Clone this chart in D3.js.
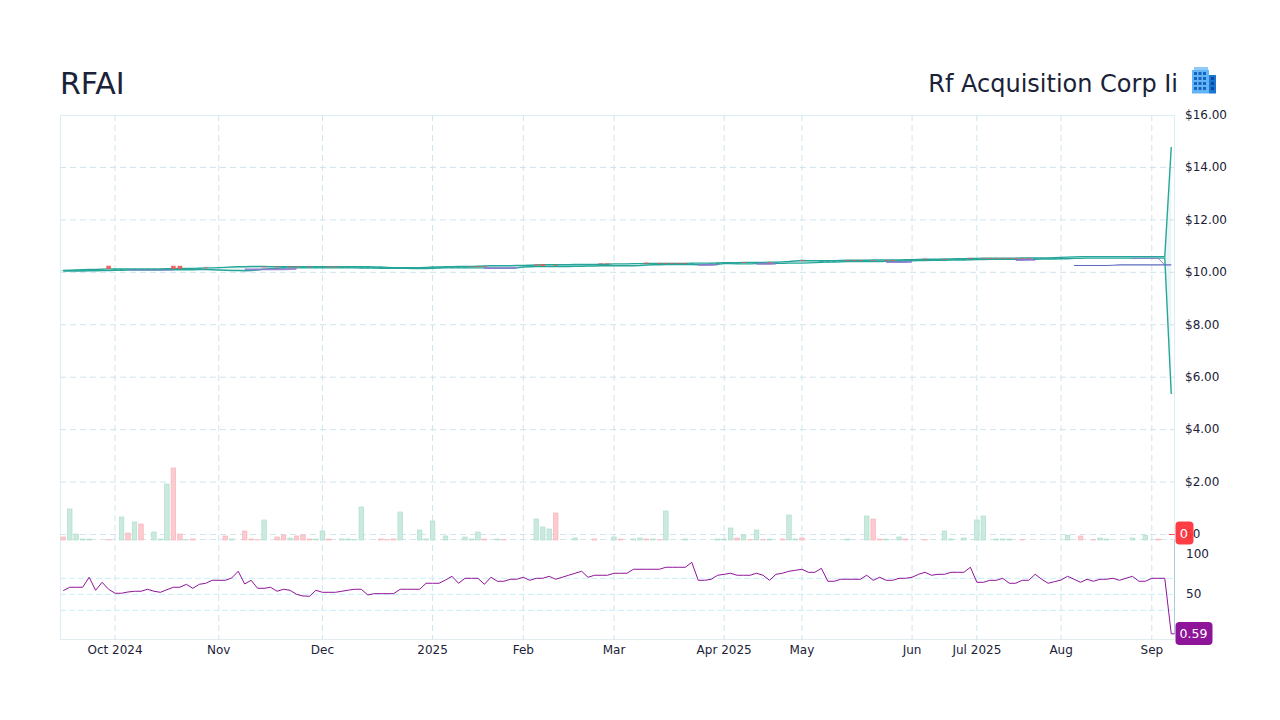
<!DOCTYPE html>
<html><head><meta charset="utf-8">
<script src="https://cdn.jsdelivr.net/npm/d3@7/dist/d3.min.js"></script>
<style>html,body{margin:0;background:#fff}svg{display:block;font-family:"DejaVu Sans",sans-serif}</style>
</head><body><svg id="c" width="1280" height="720"></svg>
<script>
const tickIndex=[8,24,40,57,71,85,102,114,131,141,154,168];
const tickLabels=["Oct 2024","Nov","Dec","2025","Feb","Mar","Apr 2025","May","Jun","Jul 2025","Aug","Sep"];
const priceTicks=[0,2,4,6,8,10,12,14,16];
const rsiTicks=[50,100];
const rsiGrid=[30,50,70];
const rsi=[54.6,58.8,58.8,58.8,71.3,55,65,56.3,51.3,51.3,52.9,53.8,53.8,56.3,53.8,52.5,55.8,58.8,58.8,62.5,57.5,62.5,63.8,67.5,67.5,67.5,70.4,78.8,62.9,67.5,57.5,57.5,58.8,53.8,56.3,55,50,47.9,47.5,55,52.5,52.5,52.5,53.8,55.2,
56.3,56.3,49.2,50.8,50.8,50.8,50.8,56.3,56.3,56.3,56.3,63.8,63.8,63.8,67.9,72.5,63.8,70,70,70,62.5,71.3,66.3,66.3,68.8,68.8,71.3,67.5,70,70,72.5,68.8,71.3,73.8,76.3,78.8,71.3,73.8,73.8,73.8,76.3,76.3,76.3,81.3,81.3,81.3,81.3,81.3,83.8,83.8,83.8,83.8,90,67.5,
67.5,68.8,73.8,75,76.3,73.8,73.8,73.8,76.3,73.8,67.5,75,76.3,78.8,80,81.3,77.5,77.5,82.5,66.3,66.3,68.8,68.8,68.8,68.8,73.8,67.5,71.3,67.5,67.5,70,70,71.3,75,77.5,73.8,75,75,77.5,77.5,77.5,83.8,65,65,67.5,67.5,70,63.8,63.8,67.5,67.5,75,68.8,63.8,
65.8,67.9,72.5,68.8,65,68.8,66.3,68.8,68.8,70,67.5,70,72.5,66.3,66.3,70,70,70,0.59];
const volumes=[3,31,6,1,1,0,0,.3,0,23,7,18,16,0,8,1,56,72,6,.3,1,0,0,0,0,4,1,0,9,1,.3,20,0,3,5,2,4,5,1,1,9,1,0,1,1,.3,33,0,0,1,.3,1,28,0,0,10,1,19,0,4,0,0,3,1,8,1,0,1,.3,0,0,0,0,21,13,11,27,0,0,2,0,0,1,0,0,3,1,0,1,2,1,1,.3,29,0,0,1,0,0,0,0,1,1,12,2,5,.3,10,.3,1,0,1,25,1,2,0,0,0,0,0,0,1,0,0,24,21,1,1,0,3,1,0,0,.3,0,0,9,1,0,2,0,20,24,0,1,1,1,0,.3,0,0,0,0,0,0,4.7,0,4,0,.3,2,1,0,0,0,2,0,4.7,0,1,0,0];
const volumeDown=[0,7,10,12,17,18,20,25,28,29,30,33,34,36,37,38,41,49,50,51,65,68,76,82,86,90,92,104,106,108,111,114,125,126,130,133,148,157,159,169];
const bandUpper=[10.07,10.08,10.09,10.10,10.11,10.11,10.12,10.13,10.13,10.13,10.13,10.13,10.13,10.13,10.13,10.13,10.14,10.14,10.15,10.15,10.15,10.16,10.17,10.17,10.18,10.19,10.20,10.21,10.21,10.22,10.22,10.22,10.21,10.21,10.21,10.21,10.21,10.21,10.21,10.21,10.21,10.21,10.21,10.21,10.21,10.21,10.21,10.21,10.20,10.20,10.19,10.18,10.18,10.18,10.18,10.18,10.19,10.20,10.20,10.21,10.21,10.22,10.22,10.22,10.23,10.24,10.25,10.25,10.25,10.25,10.26,10.26,10.27,10.28,10.29,10.29,10.29,10.29,10.29,10.30,10.30,10.30,10.30,10.31,10.31,10.32,10.32,10.32,10.33,10.33,10.34,10.34,10.34,10.34,10.34,10.34,10.34,10.35,10.35,10.35,10.35,10.36,10.37,10.37,10.37,10.38,10.38,10.38,10.38,10.39,10.39,10.40,10.41,10.43,10.45,10.44,10.44,10.44,10.44,10.44,10.45,10.46,10.46,10.46,10.46,10.47,10.47,10.47,10.47,10.47,10.48,10.48,10.49,10.50,10.50,10.50,10.51,10.51,10.52,10.52,10.53,10.53,10.54,10.54,10.54,10.54,10.54,10.54,10.55,10.55,10.55,10.55,10.55,10.56,10.57,10.58,10.59,10.60,10.60,10.60,10.60,10.60,10.60,10.60,10.60,10.60,10.60,10.60,10.60,10.60,10.60,14.78];
const bandLower=[10.05,10.05,10.05,10.05,10.06,10.06,10.07,10.07,10.08,10.08,10.09,10.09,10.09,10.09,10.09,10.09,10.10,10.10,10.10,10.10,10.10,10.11,10.11,10.10,10.09,10.08,10.07,10.07,10.06,10.07,10.09,10.12,10.14,10.15,10.16,10.17,10.17,10.17,10.17,10.17,10.17,10.17,10.17,10.17,10.17,10.17,10.16,10.16,10.16,10.15,10.15,10.15,10.15,10.15,10.14,10.14,10.14,10.15,10.16,10.17,10.17,10.17,10.17,10.17,10.17,10.17,10.16,10.16,10.16,10.16,10.17,10.20,10.21,10.22,10.22,10.22,10.22,10.22,10.22,10.23,10.23,10.24,10.24,10.25,10.25,10.25,10.25,10.25,10.25,10.26,10.28,10.29,10.29,10.30,10.30,10.30,10.30,10.30,10.29,10.29,10.30,10.31,10.33,10.33,10.32,10.32,10.32,10.33,10.33,10.33,10.34,10.34,10.35,10.35,10.35,10.36,10.37,10.38,10.39,10.39,10.40,10.41,10.41,10.41,10.41,10.41,10.41,10.42,10.42,10.42,10.43,10.44,10.45,10.45,10.46,10.46,10.46,10.47,10.47,10.47,10.48,10.49,10.49,10.50,10.50,10.50,10.50,10.50,10.50,10.50,10.50,10.51,10.51,10.51,10.52,10.52,10.53,10.53,10.54,10.54,10.54,10.54,10.54,10.54,10.54,10.54,10.54,10.54,10.54,10.54,10.54,5.36];
const maStart=[10,28,65,98,107,127,147,165];
const maValues=[[10.08,10.08,10.08,10.08,10.08,10.08,10.08,10.08],[10.11,10.11,10.11,10.11,10.11,10.11,10.11,10.12,10.13],[10.16,10.16,10.16,10.16,10.16,10.17],[10.28,10.28,10.28,10.29],[10.32,10.32,10.32,10.33],[10.39,10.39,10.39,10.39,10.40],[10.47,10.47,10.48,10.48],[10.53,10.53,10.53,10.53,10.53,10.28]];
const sma200Start=156;
const sma200=[10.26,10.26,10.26,10.26,10.26,10.26,10.27,10.28,10.28,10.28,10.28,10.28,10.28,10.28,10.28,10.28];
const candleDown=[7,17,18,22,31,33,35,36,38,41,42,63,64,65,73,74,76,83,84,90,92,93,94,95,96,105,109,114,121,122,123,125,127,128,133,136,140,142,143,144,145,146,147,148,149];
const candleHigh=[10.25,10.25,10.25,10.18,10.22,10.22,10.22,10.22,10.22,10.22,10.22,10.22,10.23,10.23,10.30,10.31,10.28,10.34,10.34,10.37,10.36,10.36,10.36,10.36,10.36,10.39,10.39,10.47,10.47,10.47,10.47,10.47,10.47,10.47,10.52,10.51,10.55,10.55,10.55,10.55,10.55,10.55,10.55,10.55,10.55];
const candleLow=[10.13,10.13,10.13,10.15,10.19,10.19,10.19,10.19,10.19,10.19,10.19,10.20,10.20,10.20,10.26,10.24,10.25,10.31,10.31,10.33,10.33,10.33,10.33,10.33,10.33,10.36,10.36,10.44,10.44,10.44,10.44,10.44,10.44,10.44,10.49,10.48,10.52,10.52,10.52,10.52,10.52,10.52,10.52,10.52,10.52];
const lastPrice=0, lastRsi=0.59;

const svg=d3.select("#c");
const L=60,R=1174.5;
const idx=d3.range(172);
const x=d3.scaleBand().domain(idx).range([L,R]).paddingInner(0.3).paddingOuter(0.15);
const cx=i=>x(i)+x.bandwidth()/2;
const y=d3.scaleLinear().domain([0,16]).range([534.5,115]);
const yv=d3.scaleLinear().domain([0,73]).range([540,467]);
const yr=d3.scaleLinear().domain([0,100]).range([634.3,554.3]);
const ink="#1a2238", grid="#cfe4ec", grid2="#c9eefb";

// Frame and grid
const g=svg.append("g");
g.append("line").attr("x1",L+.5).attr("x2",L+.5).attr("y1",115).attr("y2",640).attr("stroke","#dbeef4");
g.append("line").attr("x1",L).attr("x2",R).attr("y1",115.5).attr("y2",115.5).attr("stroke","#dbeef4");
g.append("line").attr("x1",L).attr("x2",R).attr("y1",639.5).attr("y2",639.5).attr("stroke","#e3ecef");
g.append("line").attr("x1",R).attr("x2",R).attr("y1",115).attr("y2",540).attr("stroke","#dbeef4");
g.append("line").attr("x1",R).attr("x2",R).attr("y1",540).attr("y2",634).attr("stroke","#a9cdd6");
g.selectAll(".vg").data(tickIndex).join("line").attr("x1",d=>cx(d)).attr("x2",d=>cx(d)).attr("y1",115).attr("y2",640)
 .attr("stroke",grid).attr("stroke-dasharray","6 4");
g.selectAll(".hg").data(priceTicks.filter(d=>d<16)).join("line").attr("x1",L).attr("x2",R).attr("y1",d=>y(d)).attr("y2",d=>y(d))
 .attr("stroke",grid).attr("stroke-dasharray","6 4");
g.append("line").attr("x1",L).attr("x2",R).attr("y1",yv(0)-.5).attr("y2",yv(0)-.5).attr("stroke",grid).attr("stroke-dasharray","6 4");
g.selectAll(".rg").data(rsiGrid).join("line").attr("x1",L).attr("x2",R).attr("y1",d=>yr(d)).attr("y2",d=>yr(d))
 .attr("stroke",grid2).attr("stroke-dasharray","6 3");

// Volume
const downSet=new Set(volumeDown);
svg.append("g").selectAll("rect").data(idx.filter(i=>volumes[i]>0)).join("rect")
 .attr("x",i=>x(i)).attr("width",x.bandwidth()).attr("y",i=>yv(volumes[i])).attr("height",i=>yv(0)-yv(volumes[i]))
 .attr("fill",i=>downSet.has(i)?"#fbcbcf":"#cbeadf").attr("stroke",i=>downSet.has(i)?"#f6b7bd":"#aedfcb").attr("stroke-width",.7);

// Bands
svg.append("path").datum(idx).attr("fill","#26a69a").attr("fill-opacity",.1)
 .attr("d",d3.area().x(cx).y0(i=>y(bandLower[i])).y1(i=>y(bandUpper[i])));
const lineU=d3.line().x(cx).y(i=>y(bandUpper[i])), lineL=d3.line().x(cx).y(i=>y(bandLower[i]));
[lineU,lineL].forEach(l=>svg.append("path").datum(idx).attr("fill","none").attr("stroke","#26a69a").attr("stroke-width",1.4).attr("d",l));
// Up candles where the band is narrow
const candleSet=new Set(candleDown);
svg.append("g").selectAll("rect").data(idx.filter(i=>i<170&&!candleSet.has(i)&&bandUpper[i]-bandLower[i]<=.06)).join("rect")
 .attr("x",i=>x(i)).attr("width",x.bandwidth()).attr("y",i=>y(bandUpper[i])).attr("height",i=>y(bandLower[i])-y(bandUpper[i]))
 .attr("fill","#26a69a").attr("opacity",.8);
// Moving averages
const ma=d3.line().x(d=>cx(d[0])).y(d=>y(d[1]));
maStart.forEach((s,k)=>{
 svg.append("path").datum(maValues[k].map((v,j)=>[s+j,v])).attr("fill","none").attr("stroke","#8f78cf").attr("stroke-width",k==7?1:1.8).attr("opacity",k==0?.45:.9).attr("d",ma);
});
svg.append("path").datum(sma200.map((v,j)=>[sma200Start+j,v])).attr("fill","none").attr("stroke","#5c6bc0").attr("stroke-width",1.2).attr("d",ma);
// Down candles
svg.append("g").selectAll("rect").data(candleDown).join("rect")
 .attr("x",i=>x(i)).attr("width",x.bandwidth()).attr("y",(d,k)=>y(candleHigh[k])).attr("height",(d,k)=>y(candleLow[k])-y(candleHigh[k]))
 .attr("fill","#ef5350").attr("opacity",.9);
// Last price stub
svg.append("line").attr("x1",cx(170)+4).attr("x2",R).attr("y1",y(lastPrice)).attr("y2",y(lastPrice)).attr("stroke","#ef5350");

// RSI
svg.append("path").datum(rsi.map((v,i)=>[cx(i),yr(v)]).concat([[R,yr(lastRsi)]])).attr("fill","none").attr("stroke","#8e1599").attr("stroke-width",1).attr("d",d3.line());

// Axes
const ax=d3.axisBottom(x).tickValues(tickIndex).tickSize(0).tickPadding(0).tickFormat((d,i)=>tickLabels[i]);
const ga=svg.append("g").attr("transform","translate(0,644)").call(ax);
ga.select(".domain").remove();
ga.selectAll("text").attr("font-size",12).attr("fill",ink).attr("font-family","DejaVu Sans").attr("dy",0).attr("y",10);

const ay=d3.axisRight(y).tickValues(priceTicks).tickSize(0).tickPadding(0).tickFormat(d=>d===0?"$0":"$"+d.toFixed(2));
const gy=svg.append("g").attr("transform","translate(1185,-0.5)").call(ay);
gy.select(".domain").remove();
gy.selectAll("text").attr("font-size",12).attr("fill",ink).attr("font-family","DejaVu Sans").attr("x",0);

const ar=d3.axisRight(yr).tickValues(rsiTicks).tickSize(0).tickPadding(0);
const gr=svg.append("g").attr("transform","translate(1186,-0.5)").call(ar);
gr.select(".domain").remove();
gr.selectAll("text").attr("font-size",12).attr("fill",ink).attr("font-family","DejaVu Sans").attr("x",0);

// Value tags over the axis text
svg.append("rect").attr("x",1175.5).attr("y",521.5).attr("width",18).attr("height",23).attr("rx",4).attr("fill","#ff2d34").attr("opacity",.92);
svg.append("text").attr("x",1184).attr("y",538).attr("text-anchor","middle").attr("font-size",13).attr("fill","#fff").text(lastPrice);
svg.append("rect").attr("x",1175.5).attr("y",622).attr("width",37).attr("height",23).attr("rx",4).attr("fill","#8e1599");
svg.append("text").attr("x",1193.5).attr("y",638).attr("text-anchor","middle").attr("font-size",12.5).attr("fill","#fff").text(lastRsi);

// Titles
svg.append("text").attr("x",60).attr("y",94).attr("font-size",30).attr("fill",ink).text("RFAI");
svg.append("text").attr("x",1178).attr("y",91.5).attr("text-anchor","end").attr("font-size",24).attr("fill",ink).text("Rf Acquisition Corp Ii");

// Building icon
const ic=svg.append("g");
ic.append("rect").attr("x",1194).attr("y",67).attr("width",14).attr("height",4).attr("fill","#90caf9");
ic.append("rect").attr("x",1192).attr("y",70).attr("width",17).attr("height",23.5).attr("fill","#64b5f6");
ic.append("rect").attr("x",1209).attr("y",75).attr("width",7).attr("height",18.5).attr("fill","#1976d2");
const winX=[1194,1198.5,1203], winY=[72,77,82,87];
winX.forEach(a=>winY.forEach(b=>ic.append("rect").attr("x",a).attr("y",b).attr("width",3).attr("height",3).attr("fill","#1565c0")));
[77,82,87].forEach(b=>ic.append("rect").attr("x",1211).attr("y",b).attr("width",3).attr("height",3).attr("fill","#0d47a1"));
</script></body></html>
